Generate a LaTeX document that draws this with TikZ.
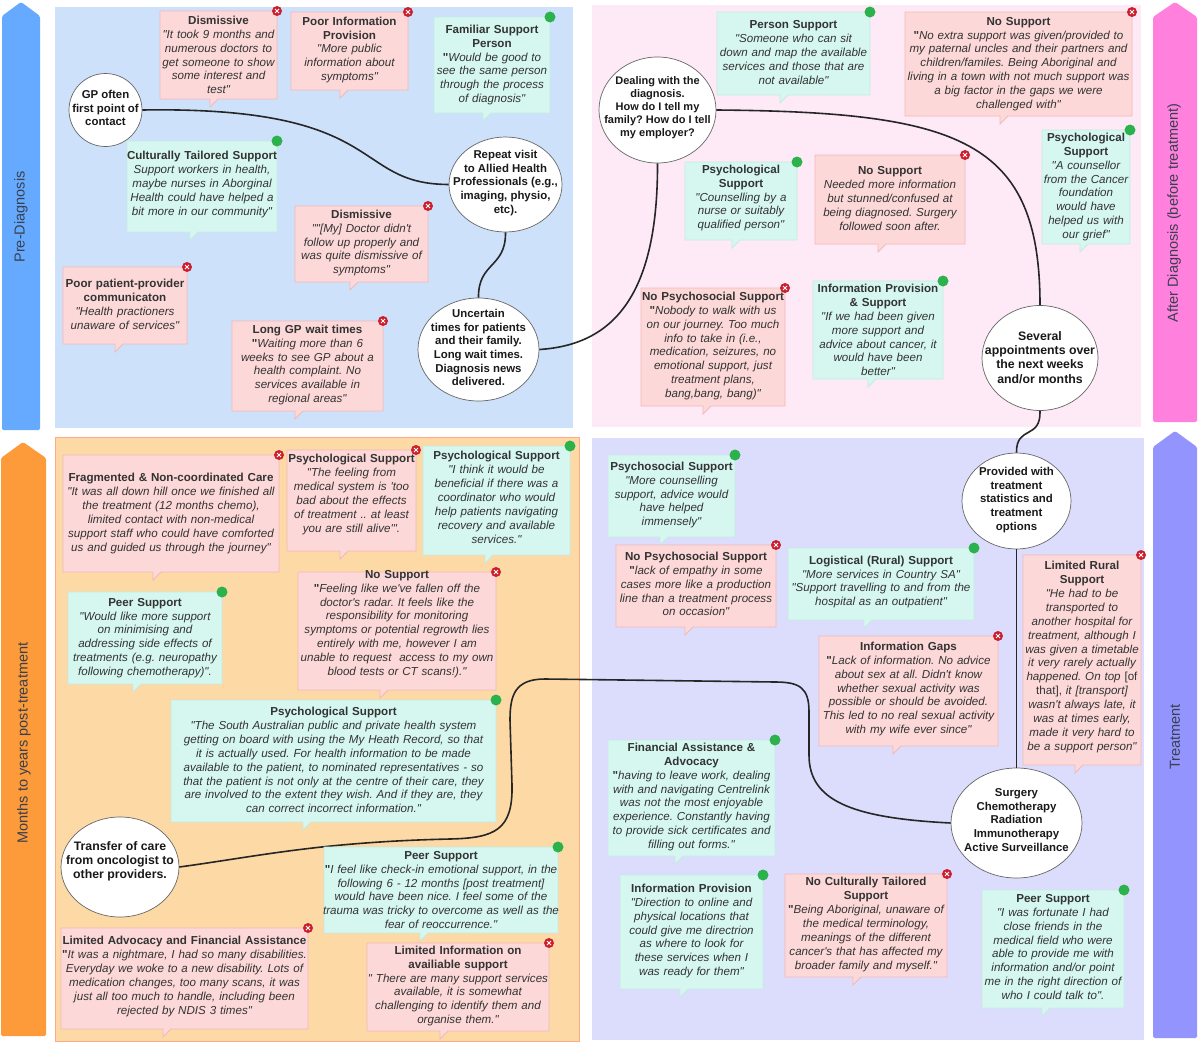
\documentclass[tikz,border=0pt]{standalone}
\usepackage{fontspec}
\setmainfont{Liberation Sans}
\newfontfamily\lsans{Liberation Sans}
\usetikzlibrary{shapes.geometric}
\definecolor{bluepanel}{HTML}{CDE1FB}
\definecolor{bluearrow}{HTML}{66AAFF}
\definecolor{pinkpanel}{HTML}{FDEAF6}
\definecolor{pinkarrow}{HTML}{FF80DD}
\definecolor{orangepanel}{HTML}{FCD9A5}
\definecolor{orangearrow}{HTML}{FD9A3A}
\definecolor{lavpanel}{HTML}{DCDCFC}
\definecolor{lavarrow}{HTML}{9494FE}
\definecolor{redfill}{HTML}{FDD8D8}
\definecolor{redline}{HTML}{F2B9B9}
\definecolor{greenfill}{HTML}{D5F7EF}
\definecolor{greenline}{HTML}{C4ECE2}
\definecolor{dotred}{HTML}{CC1F2D}
\definecolor{dotgreen}{HTML}{2BB24C}
\definecolor{txtgray}{HTML}{333333}
\definecolor{labgray}{HTML}{38404F}
\newcommand{\bq}{{\upshape\bfseries"}}
\newcommand{\cbx}[9]{%
  \filldraw[#7box] (#2,#3) -- (#4,#3) -- (#4,#5) -- ({#6+8},#5) -- (#6,{#5+8}) -- (#6,#5) -- (#2,#5) -- cycle;
  \node[boxtext] (#1) at ({(#2+#4)/2},{(#3+#5)/2+(#9)}) {#8};
  \node[#7dot] (#1d) at (#4,#3) {};
}
\newcommand{\stg}[7]{% name, cx, cy, w, h, text y, text
  \node[stagenode, minimum width=#4pt, minimum height=#5pt] (#1) at (#2,#3) {};
  \node[stagetext] (#1t) at (#2,#6) {#7};
}
\begin{document}
\frenchspacing
\begin{tikzpicture}[x=1pt,y=-1pt,
  rbox/.style={fill=redfill, draw=redline, line width=0.8pt},
  gbox/.style={fill=greenfill, draw=greenline, line width=0.8pt},
  boxtext/.style={text width=430pt, align=center, inner sep=0pt, text=txtgray,
     font=\lsans\frenchspacing\fontsize{11.6}{13.9}\selectfont},
  rdot/.style={circle, fill=dotred, inner sep=0pt, minimum size=10pt,
     path picture={\draw[white, line width=1pt]
       ([shift={(-2pt,-2pt)}]path picture bounding box.center) -- ([shift={(2pt,2pt)}]path picture bounding box.center)
       ([shift={(-2pt,2pt)}]path picture bounding box.center) -- ([shift={(2pt,-2pt)}]path picture bounding box.center);}},
  gdot/.style={circle, fill=dotgreen, inner sep=0pt, minimum size=11pt},
  stagenode/.style={ellipse, draw=black!60, line width=0.7pt, fill=white, inner sep=0pt},
  stagetext/.style={align=center, inner sep=0pt, text=black!90,
     font=\lsans\bfseries\fontsize{11.4}{13.7}\selectfont},
  bigstage/.style={font=\lsans\bfseries\fontsize{12.3}{14.2}\selectfont},
  connline/.style={draw=black!85, line width=1.6pt},
  phase/.style={rotate=90, text=labgray, font=\lsans\fontsize{14.5}{16}\selectfont}
]
\useasboundingbox (0,0) rectangle (1200,1044);
\fill[white] (0,0) rectangle (1200,1044);
% panels
\fill[bluepanel] (55,7) rectangle (573,428);
\fill[pinkpanel] (592,5) rectangle (1141,427);
\filldraw[fill=orangepanel, draw=orange!30!pink, line width=0.5pt] (55,437) rectangle (579,1041);
\fill[lavpanel] (592,438) rectangle (1144,1040);
% phase arrows
\fill[bluearrow, rounded corners=1.5pt] (2,430) -- (2,16) -- (21,2) -- (40,16) -- (40,430) -- cycle;
\fill[pinkarrow, rounded corners=1.5pt] (1153,422) -- (1153,17) -- (1175,2) -- (1197,17) -- (1197,422) -- cycle;
\fill[orangearrow, rounded corners=1.5pt] (1,1036) -- (1,458) -- (23,442) -- (46,458) -- (46,1036) -- cycle;
\fill[lavarrow, rounded corners=1.5pt] (1153,1038) -- (1153,447) -- (1175,431) -- (1197,447) -- (1197,1038) -- cycle;
\node[phase] (ph1) at (21,217) {Pre-Diagnosis};
\node[phase] (ph2) at (1174,213) {After Diagnosis (before treatment)};
\node[phase] (ph3) at (24,743) {Months to years post-treatment};
\node[phase] (ph4) at (1175,737) {Treatment};
% stages
\stg{gp}{105.5}{110}{73}{73}{108}{GP often\\first point of\\contact}
\stg{rv}{505.5}{184.5}{113}{95}{183}{Repeat visit\\to Allied Health\\Professionals (e.g.,\\imaging, physio,\\etc).}
\stg{unc}{478.5}{349.5}{121}{103}{347.5}{Uncertain\\times for patients\\and their family.\\Long wait times.\\Diagnosis news\\delivered.}
\node[stagenode, minimum width=117pt, minimum height=106pt] (dd) at (657.5,110) {};
\node[stagetext, font=\lsans\bfseries\fontsize{11}{13}\selectfont] (ddt) at (657.5,108) {Dealing with the\\diagnosis.\\How do I tell my\\family? How do I tell\\my employer?};
\node[stagenode, minimum width=116pt, minimum height=105pt] (sev) at (1040,358) {};
\node[stagetext, bigstage] (sevt) at (1040,357.5) {Several\\appointments over\\the next weeks\\and/or months};
\stg{prov}{1016.5}{501}{109}{96}{500}{Provided with\\treatment\\statistics and\\treatment\\options}
\stg{surg}{1016.5}{823}{131}{110}{820}{Surgery\\Chemotherapy\\Radiation\\Immunotherapy\\Active Surveillance}
\node[stagenode, minimum width=118pt, minimum height=100pt] (trans) at (120,867) {};
\node[stagetext, bigstage] (transt) at (120,861.5) {Transfer of care\\from oncologist to\\other providers.};
% connectors
\draw[connline] (gp.east) .. controls (390,106) and (350,184) .. (rv.west);
\draw[connline] (rv.south) .. controls (506,268) and (478,262) .. (unc.north);
\draw[connline] (unc.east) .. controls (610,345) and (658,300) .. (dd.south);
\draw[connline] (dd.east) .. controls (960,112) and (1040,140) .. (sev.north);
\draw[connline] (sev.south) .. controls (1041,440) and (1016,425) .. (prov.north);
\draw[connline] (prov.south) -- (surg.north);
\draw[connline] (surg.west) .. controls (850,818) and (809,800) .. (809,755)
   -- (809,712) .. controls (809,688) and (800,682) .. (775,682)
   -- (545,679) .. controls (515,679) and (510,695) .. (510,720)
   -- (512,785) .. controls (513,830) and (495,838) .. (450,839)
   .. controls (320,842) and (260,856) .. (trans.east);
% ---------- Pre-diagnosis boxes
\cbx{b1}{160}{11}{277}{99}{210}{r}{\textbf{Dismissive}\\\itshape "It took 9 months and\\numerous doctors to\\get someone to show\\some interest and\\test"}{0}
\cbx{b2}{291}{12}{408}{90}{340}{r}{\textbf{Poor Information}\\\textbf{Provision}\\\itshape "More public\\information about\\symptoms"}{-1}
\cbx{b3}{434}{17}{550}{113}{483}{g}{\textbf{Familiar Support}\\\textbf{Person}\\\bq\itshape Would be good to\\see the same person\\through the process\\of diagnosis"}{0}
\cbx{b4}{127}{141}{277}{232}{190}{g}{\textbf{Culturally Tailored Support}\\\itshape Support workers in health,\\maybe nurses in Aborginal\\Health could have helped a\\bit more in our community"}{-2}
\cbx{b5}{295}{206}{428}{282}{350}{r}{\textbf{Dismissive}\\\itshape ""[My] Doctor didn't\\follow up properly and\\was quite dismissive of\\symptoms"}{-1}
\cbx{b6}{63}{267}{187}{344}{115}{r}{\textbf{Poor patient-provider}\\\textbf{communicaton}\\\itshape "Health practioners\\unaware of services"}{-1}
\cbx{b7}{232}{321}{383}{411}{295}{r}{\textbf{Long GP wait times}\\\bq\itshape Waiting more than 6\\weeks to see GP about a\\health complaint. No\\services available in\\regional areas"}{-1}
% ---------- After diagnosis boxes
\cbx{p1}{717}{12}{870}{95}{780}{g}{\textbf{Person Support}\\\itshape "Someone who can sit\\down and map the available\\services and those that are\\not available"}{-1}
\cbx{p2}{905}{12}{1132}{116}{1000}{r}{\textbf{No Support}\\\bq\itshape No extra support was given/provided to\\my paternal uncles and their partners and\\children/familes. Being Aboriginal and\\living in a town with not much support was\\a big factor in the gaps we were\\challenged with"}{0}
\cbx{p3}{685}{162}{797}{240}{732}{g}{\textbf{Psychological}\\\textbf{Support}\\\itshape "Counselling by a\\nurse or suitably\\qualified person"}{-3}
\cbx{p4}{815}{155}{965}{244}{878}{r}{\textbf{No Support}\\\itshape Needed more information\\but stunned/confused at\\being diagnosed. Surgery\\followed soon after.}{-1}
\cbx{p5}{1042}{130}{1130}{244}{1080}{g}{\textbf{Psychological}\\\textbf{Support}\\\itshape "A counsellor\\from the Cancer\\foundation\\would have\\helped us with\\our grief"}{0}
\cbx{p6}{641}{288}{785}{406}{703}{r}{\textbf{No Psychosocial Support}\\\bq\itshape Nobody to walk with us\\on our journey. Too much\\info to take in (i.e.,\\medication, seizures, no\\emotional support, just\\treatment plans,\\bang,bang, bang)"}{-1}
\cbx{p7}{813}{281}{943}{379}{868}{g}{\textbf{Information Provision}\\\textbf{\& Support}\\\itshape "If we had been given\\more support and\\advice about cancer, it\\would have been\\better"}{0}
% ---------- Post-treatment boxes
\cbx{o1}{63}{455}{279}{572}{153}{r}{\textbf{Fragmented \& Non-coordinated Care}\\\itshape "It was all down hill once we finished all\\the treatment (12 months chemo),\\limited contact with non-medical\\support staff who could have comforted\\us and guided us through the journey"}{0}
\cbx{o2}{287}{450}{416}{551}{340}{r}{\textbf{Psychological Support}\\\itshape "The feeling from\\medical system is 'too\\bad about the effects\\of treatment .. at least\\you are still alive'".}{-6}
\cbx{o3}{423}{446}{570}{555}{485}{g}{\textbf{Psychological Support}\\\itshape "I think it would be\\beneficial if there was a\\coordinator who would\\help patients navigating\\recovery and available\\services."}{-3}
\cbx{o4}{68}{592}{222}{684}{133}{g}{\textbf{Peer Support}\\\itshape "Would like more support\\on minimising and\\addressing side effects of\\treatments (e.g. neuropathy\\following chemotherapy)".}{0}
\cbx{o5}{298}{572}{496}{690}{380}{r}{\textbf{No Support}\\\bq\itshape Feeling like we've fallen off the\\doctor's radar. It feels like the\\responsibility for monitoring\\symptoms or potential regrowth lies\\entirely with me, however I am\\unable to request\ \ access to my own\\blood tests or CT scans!)."}{-7}
\cbx{o6}{171}{700}{496}{822}{303}{g}{\textbf{Psychological Support}\\\itshape "The South Australian public and private health system\\getting on board with using the My Heath Record, so that\\it is actually used. For health information to be made\\available to the patient, to nominated representatives - so\\that the patient is not only at the centre of their care, they\\are involved to the extent they wish. And if they are, they\\can correct incorrect information."}{-1}
\cbx{o7}{324}{847}{558}{933}{420}{g}{\textbf{Peer Support}\\\bq\itshape I feel like check-in emotional support, in the\\following 6 - 12 months [post treatment]\\would have been nice. I feel some of the\\trauma was tricky to overcome as well as the\\fear of reoccurrence."}{0}
\cbx{o8}{61}{928}{308}{1029}{163}{r}{\textbf{Limited Advocacy and Financial Assistance}\\\bq\itshape It was a nightmare, I had so many disabilities.\\Everyday we woke to a new disability. Lots of\\medication changes, too many scans, it was\\just all too much to handle, including been\\rejected by NDIS 3 times"}{-2}
\cbx{o9}{367}{943}{549}{1031}{440}{r}{\textbf{Limited Information on}\\\textbf{availiable support}\\\itshape " There are many support services\\available, it is somewhat\\challenging to identify them and\\organise them."}{-1}
% ---------- Treatment boxes
\cbx{l1}{608}{455}{735}{537}{660}{g}{\textbf{Psychosocial Support}\\\itshape "More counselling\\support, advice would\\have helped\\immensely"}{-1}
\cbx{l2}{616}{545}{776}{627}{685}{r}{\textbf{No Psychosocial Support}\\\bq\itshape lack of empathy in some\\cases more like a production\\line than a treatment process\\on occasion"}{-2}
\cbx{l3}{788}{548}{974}{620}{864}{g}{\textbf{Logistical (Rural) Support}\\\itshape "More services in Country SA"\\"Support travelling to and from the\\hospital as an outpatient"}{-2}
\cbx{l4}{819}{636}{998}{746}{893}{r}{\textbf{Information Gaps}\\\bq\itshape Lack of information. No advice\\about sex at all. Didn't know\\whether sexual activity was\\possible or should be avoided.\\This led to no real sexual activity\\with my wife ever since"}{-2}
\cbx{l5}{1023}{555}{1141}{765}{1075}{r}{\textbf{Limited Rural}\\\textbf{Support}\\\itshape "He had to be\\transported to\\another hospital for\\treatment, although I\\was given a timetable\\it very rarely actually\\happened. On top {\upshape[of}\\{\upshape that],} it [transport]\\wasn't always late, it\\was at times early,\\made it very hard to\\be a support person"}{-3}
\cbx{l6}{608}{740}{775}{856}{675}{g}{\textbf{Financial Assistance \&}\\\textbf{Advocacy}\\\bq\itshape having to leave work, dealing\\with and navigating Centrelink\\was not the most enjoyable\\experience. Constantly having\\to provide sick certificates and\\filling out forms."}{-1}
\cbx{l7}{620}{875}{763}{989}{680}{g}{\textbf{Information Provision}\\\itshape "Direction to online and\\physical locations that\\could give me directrion\\as where to look for\\these services when I\\was ready for them"}{-1}
\cbx{l8}{785}{874}{947}{977}{853}{r}{\textbf{No Culturally Tailored}\\\textbf{Support}\\\bq\itshape Being Aboriginal, unaware of\\the medical terminology,\\meanings of the different\\cancer's that has affected my\\broader family and myself."}{-1}
\cbx{l9}{982}{890}{1124}{1008}{1042}{g}{\textbf{Peer Support}\\\itshape "I was fortunate I had\\close friends in the\\medical field who were\\able to provide me with\\information and/or point\\me in the right direction of\\who I could talk to".}{-2}
\end{tikzpicture}
\end{document}
